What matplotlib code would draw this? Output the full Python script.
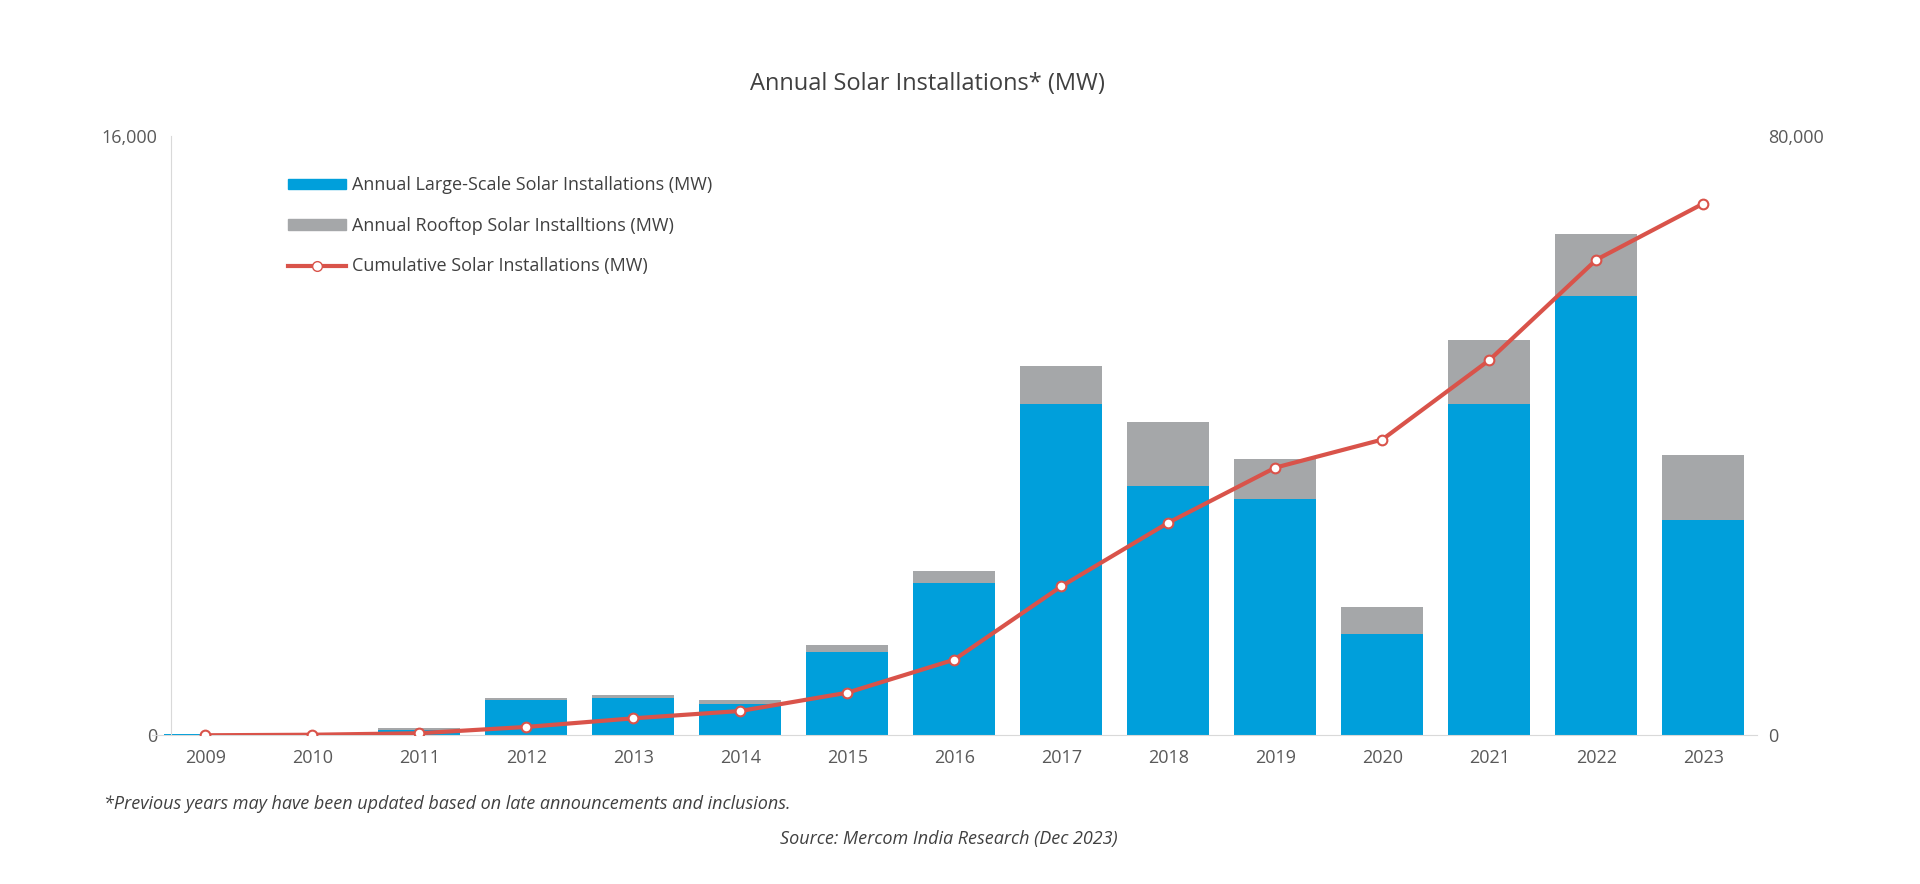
import matplotlib
matplotlib.use("Agg")
import matplotlib.pyplot as plt
from matplotlib.lines import Line2D
from matplotlib.patches import Patch

years = ["2009","2010","2011","2012","2013","2014","2015","2016","2017","2018","2019","2020","2021","2022","2023"]
large_scale = [30, 60, 150, 950, 1000, 850, 2220, 4080, 8860, 6670, 6310, 2710, 8860, 11730, 5750]
rooftop = [0, 0, 50, 60, 80, 100, 200, 300, 1010, 1700, 1080, 720, 1700, 1670, 1730]
cumulative = [30, 100, 300, 1140, 2290, 3270, 5710, 10120, 19900, 28400, 35750, 39500, 50100, 63500, 71000]

plt.rcParams['font.family'] = ['Open Sans', 'DejaVu Sans']
fig = plt.figure(figsize=(19.2, 8.84), dpi=100)
ax = fig.add_axes([0.079, 0.168, 0.836, 0.678])
x = range(len(years))
blue = '#009FDB'; gray = '#A5A7A9'; red = '#D9534A'
ax.bar(x, large_scale, width=0.77, color=blue)
ax.bar(x, rooftop, bottom=large_scale, width=0.77, color=gray)
ax.set_ylim(0, 16000)
ax.set_yticks([0, 16000]); ax.set_yticklabels(['0', '16,000'])
ax.set_xlim(-0.5, len(years)-0.5)
ax.set_xticks(list(x)); ax.set_xticklabels(years)
for s in ['top', 'right']:
    ax.spines[s].set_visible(False)
ax.spines['left'].set_position(('data', -0.32))
ax.spines['left'].set_color('#D9D9D9'); ax.spines['bottom'].set_color('#D9D9D9')
ax.tick_params(length=0, labelsize=13, colors='#595959', pad=10)

ax2 = ax.twinx()
ax2.plot(x, cumulative, color=red, lw=3, marker='o', ms=7, mfc='white', mec=red, mew=1.5)
ax2.set_ylim(0, 80000)
ax2.set_yticks([0, 80000]); ax2.set_yticklabels(['0', '80,000'])
for s in ax2.spines.values():
    s.set_visible(False)
ax2.tick_params(length=0, labelsize=13, colors='#595959', pad=8)

handles = [Patch(color=blue), Patch(color=gray),
           Line2D([], [], color=red, lw=3, marker='o', ms=7, mfc='white', mec=red)]
labels = ['Annual Large-Scale Solar Installations (MW)', 'Annual Rooftop Solar Installtions (MW)',
          'Cumulative Solar Installations (MW)']
ax.legend(handles, labels, loc='upper left', bbox_to_anchor=(0.075, 0.96), frameon=False,
          fontsize=13, labelcolor='#404040', handlelength=3.2, handleheight=0.5, labelspacing=1.25,
          handletextpad=0.3)

fig.text(0.483, 0.905, 'Annual Solar Installations* (MW)', ha='center', va='center', fontsize=17, color='#404040')
fig.text(0.054, 0.09, '*Previous years may have been updated based on late announcements and inclusions.',
         ha='left', va='center', fontsize=13, style='italic', color='#404040')
fig.text(0.494, 0.051, 'Source: Mercom India Research (Dec 2023)', ha='center', va='center',
         fontsize=13, style='italic', color='#404040')
fig.savefig('out.png', dpi=100)
